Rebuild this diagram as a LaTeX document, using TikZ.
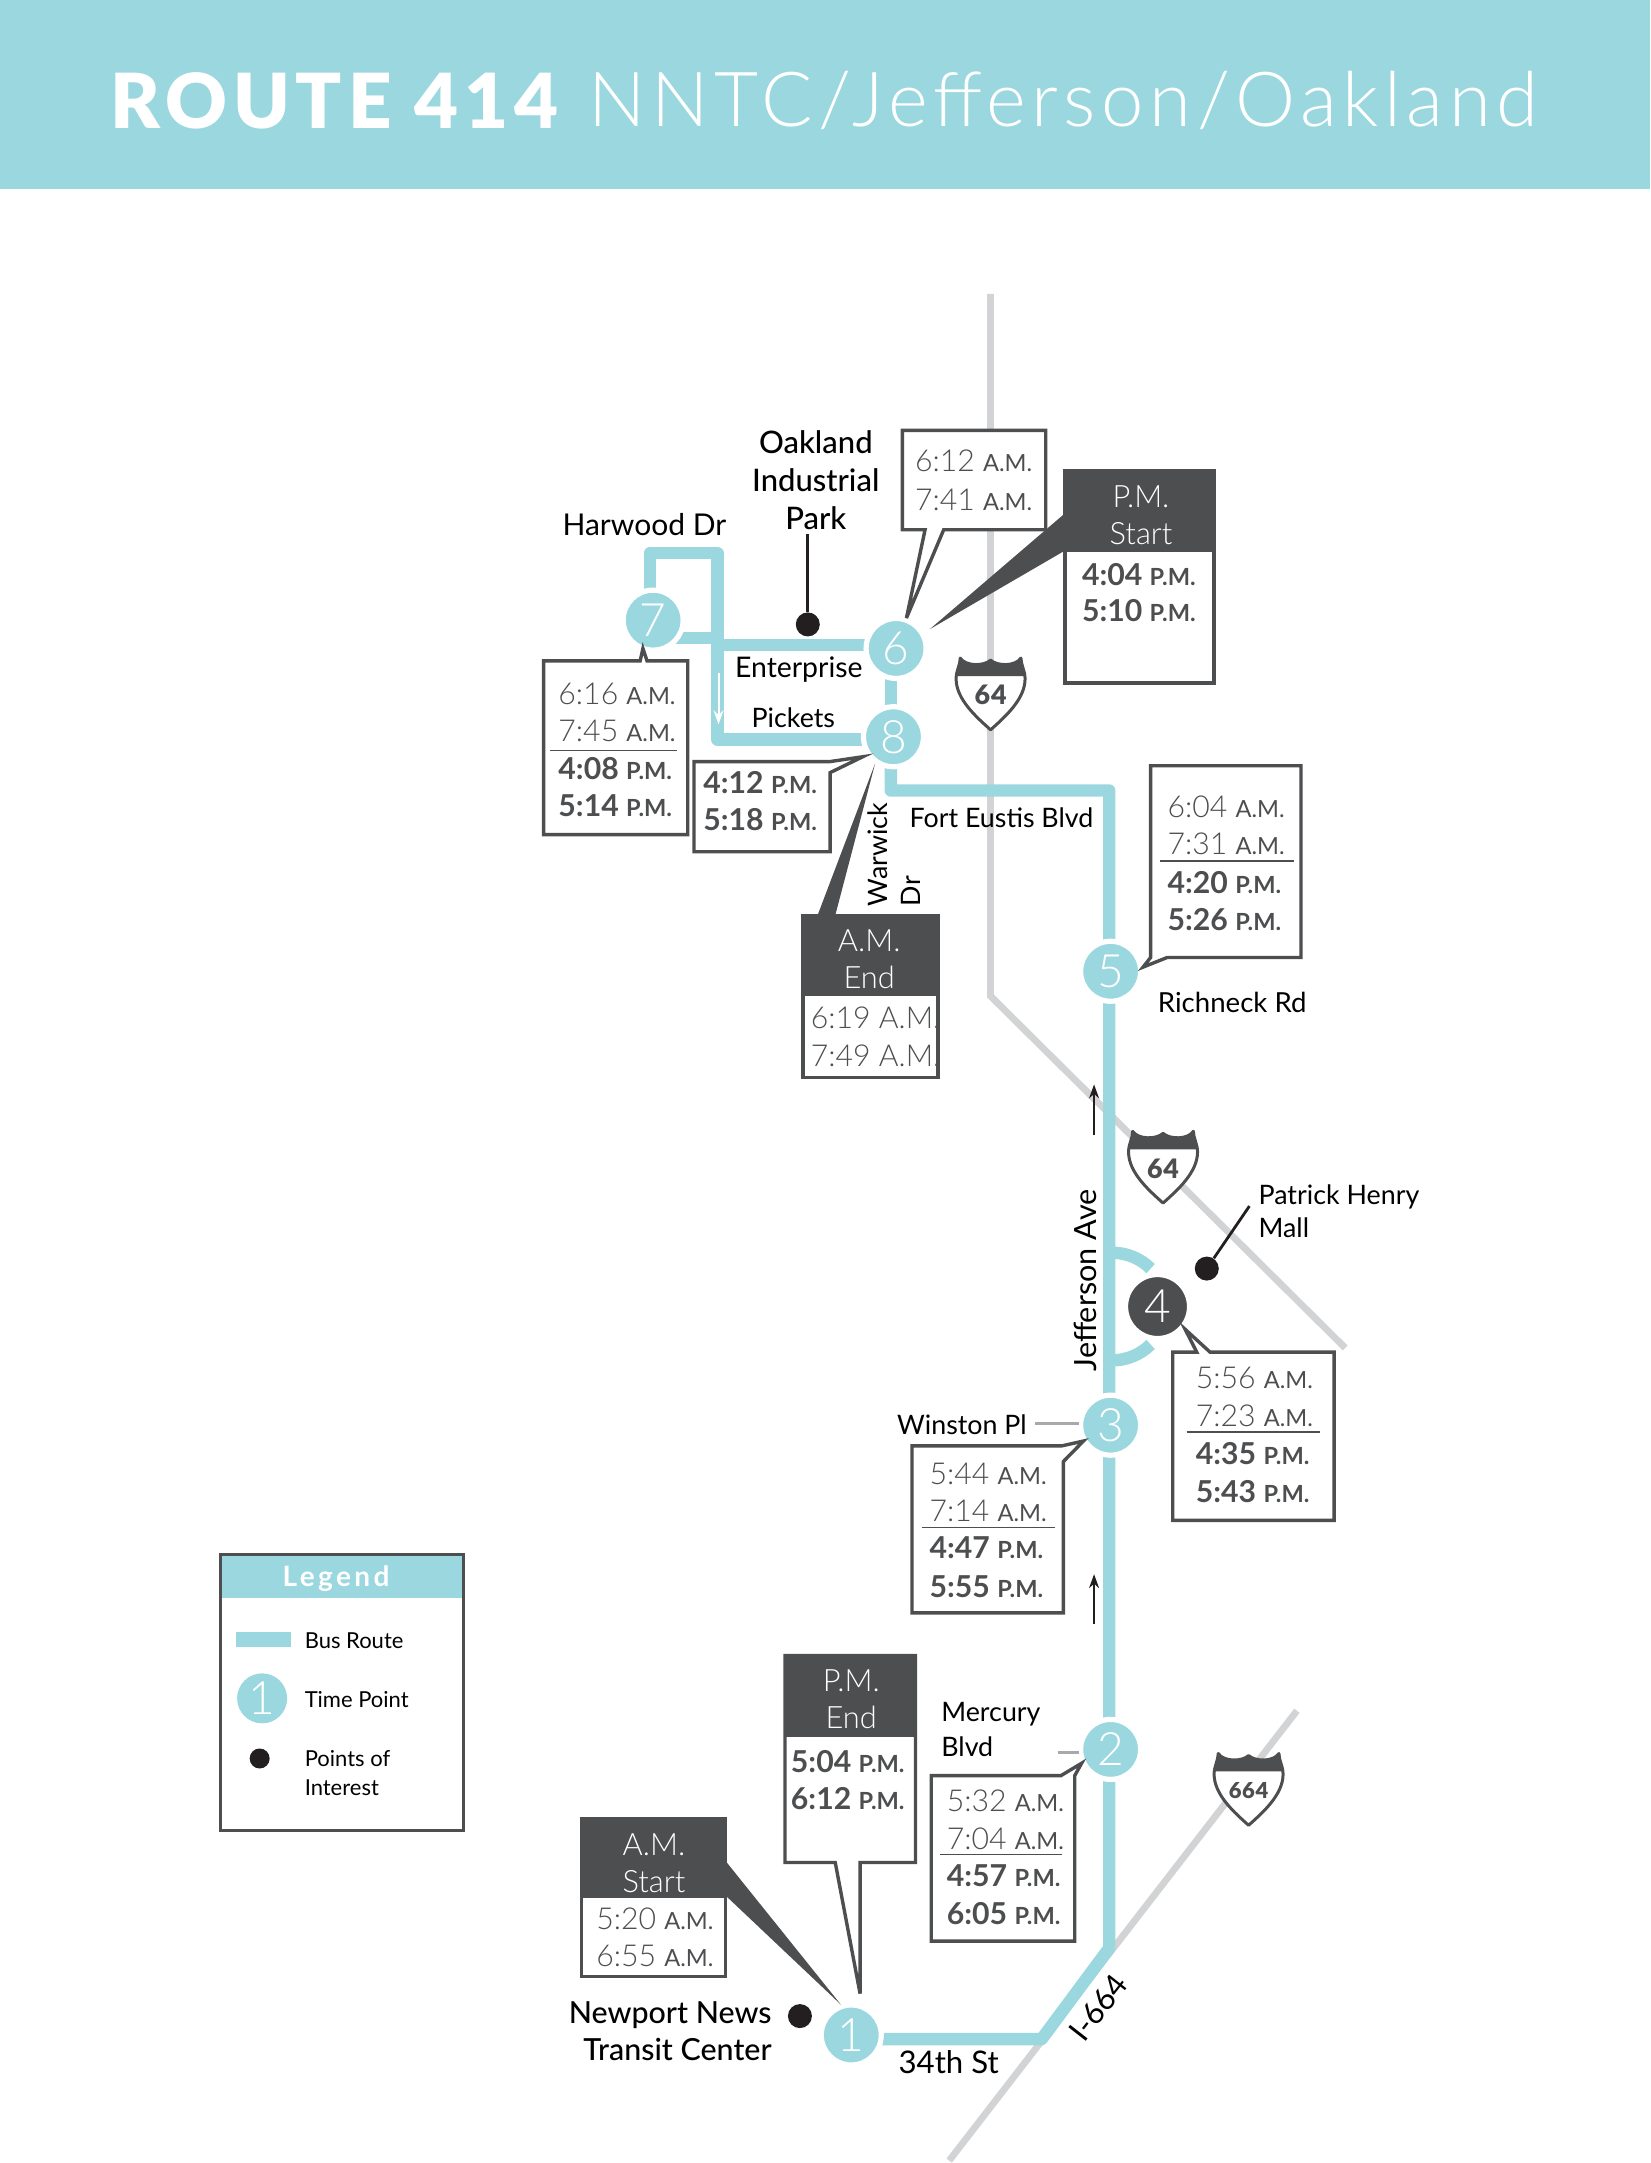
\documentclass[tikz,border=0pt]{standalone}
\usepackage{fontspec}
\usetikzlibrary{arrows.meta}
\setmainfont{Lato}
\newfontfamily\flight{Lato Light}
\newfontfamily\fmed{Lato Medium}
\newfontfamily\fbold{Lato}[UprightFont=* Bold]
\newfontfamily\fblack{Lato}[UprightFont=* Black,LetterSpace=3]
\newfontfamily\ftitleb{Lato}[UprightFont=* Black,LetterSpace=7.6]
\newfontfamily\ftitlel{Lato Light}[LetterSpace=7.4]
\newfontfamily\flegend{Lato}[UprightFont=* Bold,LetterSpace=12]
\definecolor{route}{HTML}{9AD7DF}
\definecolor{dark}{HTML}{4D4E50}
\definecolor{hwy}{HTML}{D1D3D4}
\definecolor{dotc}{HTML}{231F20}
\definecolor{dashc}{HTML}{A7A9AC}
\newcommand{\tAM}[1]{{\flight #1 {\fontsize{11.8}{12}\selectfont\fontspec{Lato} A.M.}}}
\newcommand{\tPM}[1]{{\fbold #1 {\fontsize{11.8}{12}\selectfont P.M.}}}
\newcommand{\tFull}[1]{{\flight #1 A.M.}}
\newcommand{\fsz}[1]{\fontsize{#1}{16}\selectfont}
\newcommand{\hwshield}[4]{%
\begin{scope}[shift={(#2,#3)}]
\path[fill=white,draw=dark,line width=1.5pt,line join=round] (-22,0) .. controls (-18,6) and (-5,6) .. (0,1.5) .. controls (5,6) and (18,6) .. (22,0) .. controls (22,5) and (25,9) .. (25,15) .. controls (25,30) and (10,43) .. (0,52) .. controls (-10,43) and (-25,30) .. (-25,15) .. controls (-25,9) and (-22,5) .. (-22,0) -- cycle;
\fill[dark] (-22,0) .. controls (-18,6) and (-5,6) .. (0,1.5) .. controls (5,6) and (18,6) .. (22,0) .. controls (22,5) and (24,9) .. (24.5,13) -- (-24.5,13) .. controls (-24,9) and (-22,5) .. (-22,0) -- cycle;
\node[inner sep=0pt,text=dark,font=\fblack\fontsize{#4}{14}\selectfont] (#1) at (0,27) {#1};
\end{scope}}
\tikzset{
 rt/.style={draw=route,line width=6.2pt,line join=round},
 hw/.style={draw=hwy,line width=3.4pt},
 box/.style={fill=white,draw=dark,line width=1.7pt,line join=miter},
 hdr/.style={fill=dark},
 bar/.style={draw=dark,line width=0.7pt},
 stop/.style={circle,fill=route,draw=white,line width=2.6pt,minimum size=30pt,inner sep=0pt,text=white,font=\flight\fontsize{23}{24}\selectfont},
 dotp/.style={circle,fill=dotc,minimum size=12pt,inner sep=0pt},
 lab/.style={inner sep=0pt,font=\fsz{13.4},text height=9.6pt,text depth=0pt,text=black},
 labs/.style={lab,font=\fsz{#1}},
 labb/.style={lab,font=\fmed\fsz{#1}},
 tm/.style={inner sep=0pt,font=\fontsize{15.1}{16}\selectfont,text height=10.6pt,text depth=0pt,text=dark,anchor=west},
 hd/.style={inner sep=0pt,font=\flight\fontsize{15.4}{16}\selectfont,text height=10.8pt,text depth=0pt,text=white},
 leg/.style={inner sep=0pt,font=\fontsize{11}{13}\selectfont,text height=7.8pt,text depth=0pt,text=black,anchor=west},
 thinarrow/.style={line width=1pt,-{Stealth[length=7pt,width=5pt]}},
}
\begin{document}
\begin{tikzpicture}[x=0.6898pt,y=-0.6898pt]
\useasboundingbox (0,0) rectangle (1196,1567.8);
% title band
\fill[route] (0,0) rectangle (1196,137);
\node[inner sep=0pt,anchor=west,text=white,font=\ftitleb\fontsize{38}{40}\selectfont] (ttlA) at (80,73) {ROUTE 414};
\node[inner sep=0pt,anchor=west,text=white,font=\ftitlel\fontsize{38}{40}\selectfont] (ttlB) at (426.5,73) {NNTC/Jefferson/Oakland};
% highways
\draw[hw] (718,213) -- (718,722) -- (975,977);
\draw[hw] (940,1240) -- (688,1566);
% route
\draw[rt] (617,1478) -- (755,1478) -- (804,1412) -- (804,573) -- (645.7,573) -- (645.7,534);
\draw[rt] (645.7,534) -- (645.7,470);
\draw[rt] (650,467.6) -- (520,467.6);
\draw[rt] (473,462.5) -- (520,462.5);
\draw[rt] (471,449) -- (471,401) -- (520,401) -- (520,536) -- (648,536);
\draw[rt] (806,908) .. controls (816.5,908) and (826.5,912) .. (834,919.5);
\draw[rt] (806,986) .. controls (816.5,986) and (826.5,982) .. (834,974.5);
% direction arrows
\draw[thinarrow,white] (520.8,488) -- (520.8,525);
\draw[thinarrow,dotc] (793,823) -- (793,786);
\draw[thinarrow,dotc] (793,1177) -- (793,1141);
% shields
\hwshield{64}{718}{477}{13.4}
\begin{scope}
\hwshield{64}{843}{820}{13.4}
\end{scope}
\hwshield{664}{905}{1271}{11}
% stops
\node[stop] (s1) at (617,1475) {1};
\node[stop] (s2) at (805,1268) {2};
\node[stop] (s3) at (805,1033) {3};
\node[stop,fill=dark,minimum size=32pt] (s4) at (839,947) {4};
\node[stop] (s5) at (805,704) {5};
\node[stop] (s6) at (649.5,470) {6};
\node[stop] (s7) at (473.4,449.5) {7};
\node[stop] (s8) at (647.6,534) {8};
% points of interest
\node[dotp] (pOak) at (585.5,452.6) {};
\coordinate (cOak) at (585.5,387.4);
\draw[dotc,line width=1.4pt] (pOak) -- (cOak);
\node[dotp] (pPat) at (874.7,919.5) {};
\coordinate (cPat) at (905.6,874.2);
\draw[dotc,line width=1.4pt] (pPat) -- (cPat);
\node[dotp] (pNN) at (579.8,1461.3) {};
% dashes
\coordinate (dW) at (750,1032);
\draw[dashc,line width=1.5pt] (dW) -- (782,1032);
\coordinate (dM) at (767,1270);
\draw[dashc,line width=1.5pt] (dM) -- (782,1270);
% box 6
\draw[box] (654,312) -- (758,312) -- (758,384) -- (684,384) -- (657,448) -- (670.5,384) -- (654,384) -- cycle;
\node[tm] (t6a) at (663,334) {\tAM{6:12}};
\node[tm] (t6b) at (663,362) {\tAM{7:41}};
% PM start
\fill[dark] (772,372) -- (674,456) -- (772,399) -- cycle;
\draw[box] (772,341) rectangle (880,495);
\fill[hdr] (771,340) rectangle (881,400);
\node[hd] (hPS1) at (827,360) {P.M.};
\node[hd] (hPS2) at (827,387) {Start};
\node[tm] (tPSa) at (784,417) {\tPM{4:04}};
\node[tm] (tPSb) at (784,443) {\tPM{5:10}};
% box 7
\draw[box] (394,479) -- (464,479) -- (466,470) -- (469,479) -- (498.5,479) -- (498.5,605) -- (394,605) -- cycle;
\node[tm] (t7a) at (404.5,503) {\tAM{6:16}};
\node[tm] (t7b) at (404.5,530) {\tAM{7:45}};
\draw[bar] (399,544) -- (490.6,544);
\node[tm] (t7c) at (404.5,557) {\tPM{4:08}};
\node[tm] (t7d) at (404.5,584) {\tPM{5:14}};
% box 8
\draw[box] (503,552) -- (601.7,552) -- (625.4,548.5) -- (601.7,560) -- (601.7,617.4) -- (503,617.4) -- cycle;
\node[tm] (t8a) at (509.5,567.5) {\tPM{4:12}};
\node[tm] (t8b) at (509.5,594.5) {\tPM{5:18}};
% AM End
\fill[dark] (634.3,553.4) -- (592,665) -- (605,665) -- cycle;
\draw[box] (582,664) rectangle (680,781);
\fill[hdr] (581,663) rectangle (681,722);
\node[hd] (hAE1) at (630,682) {A.M.};
\node[hd] (hAE2) at (630,709) {End};
\node[tm] (tAEa) at (587.5,738) {\tFull{6:19}};
\node[tm] (tAEb) at (587.5,765) {\tFull{7:49}};
% box 5
\draw[box] (834,555) -- (943,555) -- (943,694) -- (846,694) -- (828.5,701) -- (834,694) -- cycle;
\node[tm] (t5a) at (846,585) {\tAM{6:04}};
\node[tm] (t5b) at (846,612) {\tAM{7:31}};
\draw[bar] (841,624) -- (938,624);
\node[tm] (t5c) at (846,640) {\tPM{4:20}};
\node[tm] (t5d) at (846,667) {\tPM{5:26}};
% box 4
\draw[box] (850,980) -- (867.4,980) -- (859,963.5) -- (877,980) -- (967,980) -- (967,1102) -- (850,1102) -- cycle;
\node[tm] (t4a) at (866.5,999) {\tAM{5:56}};
\node[tm] (t4b) at (866.5,1026) {\tAM{7:23}};
\draw[bar] (860,1038) -- (957,1038);
\node[tm] (t4c) at (866.5,1054) {\tPM{4:35}};
\node[tm] (t4d) at (866.5,1081) {\tPM{5:43}};
% box 3
\draw[box] (661,1048) -- (769.6,1048) -- (785.3,1044.5) -- (770.8,1059.3) -- (770.8,1169) -- (661,1169) -- cycle;
\node[tm] (t3a) at (673.5,1068) {\tAM{5:44}};
\node[tm] (t3b) at (673.5,1095) {\tAM{7:14}};
\draw[bar] (668,1107) -- (765,1107);
\node[tm] (t3c) at (673.5,1122) {\tPM{4:47}};
\node[tm] (t3d) at (673.5,1150) {\tPM{5:55}};
% box 2
\draw[box] (675,1287) -- (769,1287) -- (784,1278) -- (779,1287) -- (779,1407) -- (675,1407) -- cycle;
\node[tm] (t2a) at (686,1305) {\tAM{5:32}};
\node[tm] (t2b) at (686,1333) {\tAM{7:04}};
\draw[bar] (681,1344) -- (770,1344);
\node[tm] (t2c) at (686,1360) {\tPM{4:57}};
\node[tm] (t2d) at (686,1387) {\tPM{6:05}};
% PM End
\draw[box] (569,1200) -- (663.6,1200) -- (663.6,1350) -- (623.4,1350) -- (623.4,1445) -- (605.4,1350) -- (569,1350) -- cycle;
\fill[hdr] (568,1199) rectangle (664.6,1259);
\node[hd] (hPE1) at (617,1218) {P.M.};
\node[hd] (hPE2) at (617,1245) {End};
\node[tm] (tPEa) at (573,1277) {\tPM{5:04}};
\node[tm] (tPEb) at (573,1304) {\tPM{6:12}};
% AM Start
\fill[dark] (526,1349) -- (609.5,1453) -- (526,1374) -- cycle;
\draw[box] (421.5,1318) rectangle (526,1432.5);
\fill[hdr] (420.5,1317) rectangle (527,1376);
\node[hd] (hAS1) at (474,1337) {A.M.};
\node[hd] (hAS2) at (474,1364) {Start};
\node[tm] (tASa) at (432,1391) {\tAM{5:20}};
\node[tm] (tASb) at (432,1418) {\tAM{6:55}};
% labels
\node[labb=15.5] (lO1) at (591.3,322) {Oakland};
\node[labb=15.5] (lO2) at (591.3,349.5) {Industrial};
\node[labb=15.5] (lO3) at (591.3,376.5) {Park};
\node[labs=15,anchor=west] (lH) at (407.5,381) {Harwood Dr};
\node[labs=14.2] (lE) at (579,484) {Enterprise};
\node[lab] (lP) at (575,520) {Pickets};
\node[lab,anchor=west] (lF) at (659,593) {Fort Eustis Blvd};
\node[lab,anchor=west,rotate=90] (lW1) at (636,657) {Warwick};
\node[lab,anchor=west,rotate=90] (lW2) at (660,657) {Dr};
\node[labs=13.8,anchor=west] (lR) at (839,727) {Richneck Rd};
\node[labs=15.3,rotate=90] (lJ) at (788,928) {Jefferson Ave};
\node[lab,anchor=west] (lPH) at (912,866) {Patrick Henry};
\node[lab,anchor=west] (lM) at (912,890) {Mall};
\node[lab,anchor=west] (lWP) at (650,1033) {Winston Pl};
\node[lab,anchor=west] (lMe) at (682,1241) {Mercury};
\node[lab,anchor=west] (lB) at (682,1266) {Blvd};
\node[labb=15.2,anchor=east] (lN1) at (559.5,1460) {Newport News};
\node[labb=15.2,anchor=east] (lN2) at (559.5,1486.5) {Transit Center};
\node[labs=15.6,anchor=west] (l34) at (651,1496) {34th St};
\node[labs=15.4,rotate=52] (lI) at (797,1456) {I-664};
% legend
\draw[fill=white,draw=dark,line width=1.6pt] (160,1127) rectangle (336,1327);
\fill[route] (161,1128) rectangle (335,1158);
\node[inner sep=0pt,text=white,font=\flegend\fontsize{14}{16}\selectfont,text height=10pt,text depth=0pt] (lgT) at (243.6,1143) {Legend};
\fill[route] (170.9,1182.7) rectangle (210.7,1194);
\node[leg] (lg1) at (220.6,1189) {Bus Route};
\node[stop,draw=none,minimum size=25pt] (lg2c) at (190,1231) {1};
\node[leg] (lg2) at (220.6,1232) {Time Point};
\node[dotp,minimum size=10pt] (lg3c) at (188.2,1274.6) {};
\node[leg] (lg3) at (220.6,1275) {Points of};
\node[leg] (lg4) at (220.6,1296) {Interest};
\end{tikzpicture}
\end{document}
